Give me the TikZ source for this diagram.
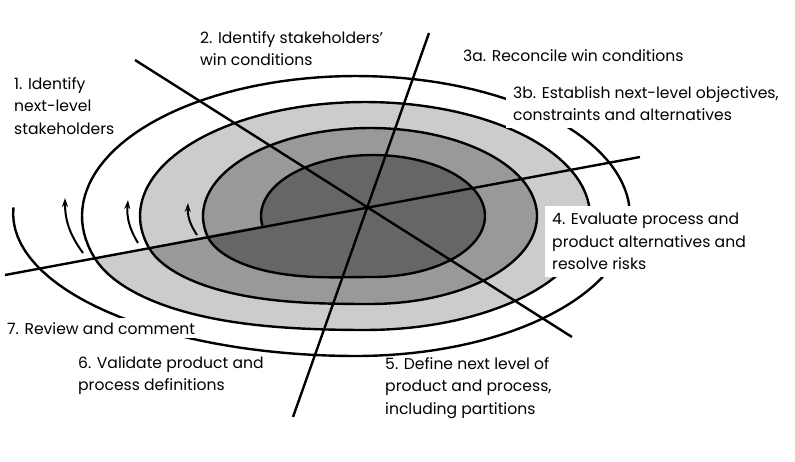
\documentclass[tikz,border=0pt]{standalone}
\usepackage{fontspec}
\setmainfont{Poppins}
\usetikzlibrary{arrows.meta}
\newcommand\spiralturn[8]{plot[domain=#1:#2,samples=150,variable=\q]
 ({#3+ff(\q,#2)*(#6-#3)+(#4+ff(\q,#2)*(#7-#4))*cos(\q)},
  {216-(#5+ff(\q,#2)*(#8-#5))*sin(\q)})}
\begin{document}
\begin{tikzpicture}[x=1pt,y=-1pt,
  declare function={ff(\aa,\bb)=(1-cos(180*max(0,min(1,(-90-\aa)/(-90-\bb)))))/2;},
  ln/.style={line width=2.4pt},
  lbl/.style={anchor=north west,align=left,inner sep=0pt,
    font=\fontsize{15.6}{22.5}\selectfont},
  boxlbl/.style={lbl,fill=white,inner sep=7pt},
  arr/.style={line width=2pt,-{Stealth[length=9pt,width=6pt]}}]
\useasboundingbox (0,0) rectangle (795,461);
% fills
\fill[black!20] \spiralturn{196}{-162.5}{365}{225}{114}{356}{274}{140} -- cycle;
\fill[black!40] \spiralturn{193}{-164}{370}{167}{88}{365}{225}{114} -- cycle;
\fill[black!60] \spiralturn{189}{-167}{373}{112}{61}{370}{167}{88} -- cycle;
% spiral outline
\draw[ln] \spiralturn{189}{-167}{373}{112}{61}{370}{167}{88};
\draw[ln] \spiralturn{193}{-164}{370}{167}{88}{365}{225}{114};
\draw[ln] \spiralturn{196}{-162.5}{365}{225}{114}{356}{274}{140};
\draw[ln] \spiralturn{197.5}{-183}{356}{274}{140}{350}{337}{166};
% axes
\coordinate (h1) at (5,275); \coordinate (h2) at (640,157);
\coordinate (d1) at (135,60); \coordinate (d2) at (572,337);
\coordinate (s1) at (429,33); \coordinate (s2) at (293,417);
\draw[ln] (h1) -- (h2);
\draw[ln] (d1) -- (d2);
\draw[ln] (s1) -- (s2);
% arrows
\coordinate (a1s) at (83,253); \coordinate (a1e) at (65,198);
\coordinate (a2s) at (138,243); \coordinate (a2e) at (128,200);
\coordinate (a3s) at (197,235); \coordinate (a3e) at (188,203);
\draw[arr] (a1s) to[bend left=18] (a1e);
\draw[arr] (a2s) to[bend left=18] (a2e);
\draw[arr] (a3s) to[bend left=18] (a3e);
% labels
\node[lbl] (l1) at (14,77) {1. Identify\\next-level\\stakeholders};
\node[lbl] (l2) at (200,31) {2. Identify stakeholders{\char"0027}\\win conditions};
\node[lbl] (l3a) at (463,49) {3a. Reconcile win conditions};
\node[boxlbl] (l3b) at (506,79) {3b. Establish next-level objectives,\\constraints and alternatives};
\node[boxlbl] (l4) at (545,206) {4. Evaluate process and\\product alternatives and\\resolve risks};
\node[lbl] (l5) at (385,357) {5. Define next level of\\product and process,\\including partitions};
\node[lbl] (l6) at (78,356) {6. Validate product and\\process definitions};
\node[lbl,fill=white,inner sep=4pt] (l7) at (3,318) {7. Review and comment};
\end{tikzpicture}
\end{document}
